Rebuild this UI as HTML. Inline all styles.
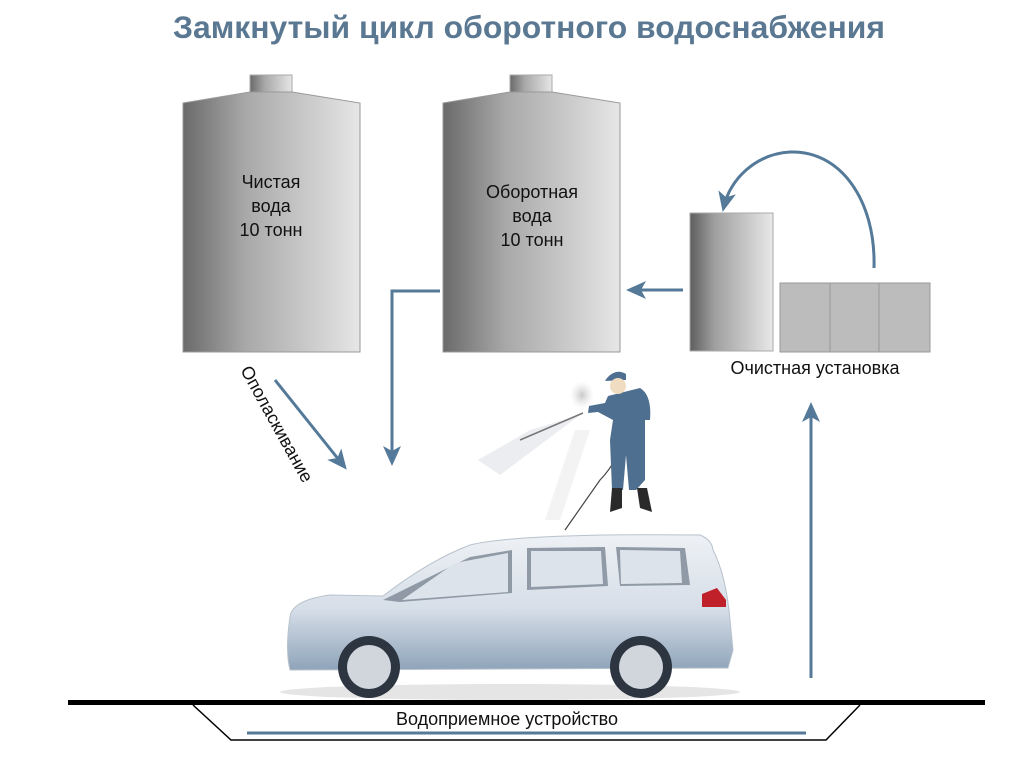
<!DOCTYPE html>
<html><head><meta charset="utf-8"><style>
body{margin:0;background:#fff}
svg{display:block}
text{font-family:"Liberation Sans",sans-serif}
</style></head><body>
<svg width="1024" height="758" viewBox="0 0 1024 758" xmlns="http://www.w3.org/2000/svg">
<defs>
<linearGradient id="g1" x1="0" x2="1" y1="0" y2="0">
<stop offset="0" stop-color="#6a6a6a"/><stop offset="0.35" stop-color="#a8a8a8"/><stop offset="1" stop-color="#e6e6e6"/></linearGradient>
<linearGradient id="g2" x1="0" x2="1"><stop offset="0" stop-color="#5e5e5e"/><stop offset="0.3" stop-color="#a0a0a0"/><stop offset="1" stop-color="#e8e8e8"/></linearGradient>
<linearGradient id="car" x1="0" x2="0" y1="0" y2="1"><stop offset="0" stop-color="#eef1f5"/><stop offset="0.55" stop-color="#d6dee8"/><stop offset="1" stop-color="#8fa4ba"/></linearGradient>
<marker id="ahb" markerWidth="20" markerHeight="20" refX="14" refY="10" orient="auto" markerUnits="userSpaceOnUse" viewBox="0 0 20 20"><path d="M0,1 L20,10 L0,19 L5,10z" fill="#557a99"/></marker>
<radialGradient id="mist"><stop offset="0" stop-color="#bbb" stop-opacity=".8"/><stop offset="1" stop-color="#ddd" stop-opacity="0"/></radialGradient>
</defs>
<text x="529" y="38" text-anchor="middle" font-size="31.5" font-weight="bold" fill="#5b7893" textLength="712" lengthAdjust="spacingAndGlyphs">Замкнутый цикл оборотного водоснабжения</text>

<rect x="250" y="75" width="42" height="17" fill="url(#g1)" stroke="#aaa"/>
<path d="M183,103 L250,92 L292,92 L360,103 L360,352 L183,352Z" fill="url(#g1)" stroke="#999"/>
<text font-size="18" fill="#111" text-anchor="middle"><tspan x="271" y="188">Чистая</tspan><tspan x="271" y="212">вода</tspan><tspan x="271" y="236">10 тонн</tspan></text>
<rect x="510" y="75" width="42" height="17" fill="url(#g1)" stroke="#aaa"/>
<path d="M443,103 L510,92 L552,92 L620,103 L620,352 L443,352Z" fill="url(#g1)" stroke="#999"/>
<text font-size="18" fill="#111" text-anchor="middle"><tspan x="532" y="198">Оборотная</tspan><tspan x="532" y="222">вода</tspan><tspan x="532" y="246">10 тонн</tspan></text>

<rect x="690" y="213" width="83" height="138" fill="url(#g2)" stroke="#aaa"/>
<rect x="780" y="283" width="150" height="69" fill="#bcbcbc" stroke="#999"/>
<line x1="830" y1="283" x2="830" y2="352" stroke="#999"/>
<line x1="879" y1="283" x2="879" y2="352" stroke="#999"/>
<text x="815" y="374" font-size="18" text-anchor="middle" fill="#111">Очистная установка</text>

<g stroke="#557a99" stroke-width="3" fill="none">
<path d="M874,268 C876,200 840,150 790,152 C755,154 730,180 724,206" marker-end="url(#ahb)"/>
<line x1="683" y1="290" x2="632" y2="290" marker-end="url(#ahb)"/>
<path d="M440,291 L392,291 L392,460" marker-end="url(#ahb)"/>
<line x1="275" y1="380" x2="343" y2="465" marker-end="url(#ahb)"/>
<line x1="811" y1="678" x2="811" y2="408" marker-end="url(#ahb)"/>
</g>
<text transform="translate(240,370) rotate(61)" font-size="18" fill="#111">Ополаскивание</text>

<ellipse cx="582" cy="395" rx="12" ry="14" fill="url(#mist)"/>
<path d="M478,460 L530,430 L580,415 L500,475Z" fill="#e6e8ec" opacity=".8"/>
<path d="M575,430 L545,520 L560,520 L590,430Z" fill="#eee" opacity=".7"/>
<line x1="520" y1="440" x2="583" y2="413" stroke="#777" stroke-width="1.5"/>
<path d="M613,410 L630,420 Q620,460 600,480 L565,530" stroke="#444" stroke-width="1.2" fill="none"/>
<g fill="#4f6f90">
<path d="M607,378 Q616,368 626,374 L626,380 L605,381Z"/>
<path d="M608,396 L640,388 Q652,395 650,420 L645,420 L645,480 L636,490 L629,490 L626,455 L623,490 L612,490 L610,440 L613,420 L598,412 L588,413 L589,406 L605,403Z"/>
</g>
<circle cx="618" cy="386" r="8" fill="#f0dcc0"/>
<path d="M612,488 L622,488 L622,508 L610,512Z" fill="#2a2a2a"/>
<path d="M637,488 L647,488 L652,512 L640,508Z" fill="#2a2a2a"/>

<ellipse cx="510" cy="692" rx="230" ry="8" fill="#ccc" opacity=".5"/>
<path d="M290,617 Q292,600 330,595 L383,596 Q430,560 470,545 Q520,533 700,535 Q712,540 713,550 Q726,575 730,620 L733,650 L728,668 L290,670 Q285,650 290,617Z" fill="url(#car)" stroke="#b8c2cc"/>
<path d="M383,600 L470,557 L512,550 L512,593 L400,602Z" fill="#8f9aa6"/>
<path d="M402,600 L455,563 L508,553 L508,592Z" fill="#dde3ea"/>
<path d="M527,548 L605,547 L608,586 L527,590Z" fill="#8f9aa6"/>
<path d="M531,551 L601,551 L603,584 L531,587Z" fill="#dde3ea"/>
<path d="M616,547 L685,548 L690,585 L620,586Z" fill="#8f9aa6"/>
<path d="M620,550 L680,551 L682,583 L621,584Z" fill="#dde3ea"/>
<path d="M702,594 L717,588 L726,600 L726,607 L702,607Z" fill="#c0202a"/>
<circle cx="369" cy="667" r="31" fill="#2c3540"/><circle cx="369" cy="667" r="22" fill="#d0d6dc"/>
<circle cx="641" cy="667" r="31" fill="#2c3540"/><circle cx="641" cy="667" r="22" fill="#d0d6dc"/>

<rect x="68" y="700" width="917" height="5" fill="#000"/>
<path d="M193,705 L231,740 L826,740 L860,705" fill="none" stroke="#000" stroke-width="1.5"/>
<line x1="247" y1="733" x2="806" y2="733" stroke="#557a99" stroke-width="3"/>
<text x="507" y="725" font-size="18" text-anchor="middle" fill="#111">Водоприемное устройство</text>
</svg>
</body></html>
